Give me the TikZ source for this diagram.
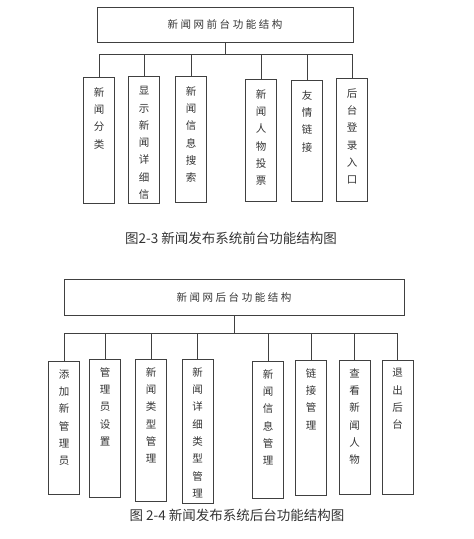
\documentclass[tikz,border=0pt]{standalone}
\usepackage{fontspec}
\usepackage{tikz}
\newfontfamily\cjk{Noto Sans CJK SC}
\newfontfamily\cjkwide[LetterSpace=24]{Noto Sans CJK SC}
\definecolor{linegray}{HTML}{404040}
\definecolor{textgray}{HTML}{333333}
\def\leafskip{10pt}
% name, x, top y, height, text
\newcommand{\leafbox}[5]{
	\node[leaf] (#1) at (#2,#3) {\parbox[t][#4pt][t]{31pt}{\vspace*{\leafskip}\centering #5}};
}

\begin{document}
\begin{tikzpicture}[x=1pt, y=-1pt,
		root/.style={draw=linegray, line width=0.9pt, inner sep=0pt, text=textgray,
			font=\cjkwide\fontsize{10.5}{12}\selectfont},
		leaf/.style={draw=linegray, line width=0.9pt, inner sep=0pt, anchor=north, text=textgray,
			font=\cjk\fontsize{10.5}{17.3}\selectfont},
		link/.style={draw=linegray, line width=0.9pt},
		caption/.style={text=textgray, font=\cjk\fontsize{13.5}{15}\selectfont}]
		\useasboundingbox (0,0) rectangle (474,539);
		% front-end tree
		\node[root, minimum width=256pt, minimum height=35pt] (froot) at (225,24.5) {新闻网前台功能结构};
		\leafbox{f1}{99}{77}{126}{新\\闻\\分\\类}
		\leafbox{f2}{144}{76}{127}{显\\示\\新\\闻\\详\\细\\信}
		\leafbox{f3}{191}{76}{126}{新\\闻\\信\\息\\搜\\索}
		\leafbox{f4}{261}{79}{122}{新\\闻\\人\\物\\投\\票}
		\leafbox{f5}{307}{80}{121}{友\\情\\链\\接}
		\leafbox{f6}{352}{78}{123}{后\\台\\登\\录\\入\\口}
		\coordinate (fbar) at (225,54);
		\draw[link] (froot.south) -- (fbar);
		\draw[link] (f1.north |- fbar) -- (f6.north |- fbar);
		\foreach \n in {f1,f2,f3,f4,f5,f6}
			\draw[link] (\n.north) -- (\n.north |- fbar);
		\node[caption] (fcap) at (231,238) {图2-3 新闻发布系统前台功能结构图};
		% back-end tree
		\def\leafskip{8pt}
		\node[root, minimum width=340pt, minimum height=36pt] (broot) at (234,297) {新闻网后台功能结构};
		\leafbox{b1}{64}{361}{133}{添\\加\\新\\管\\理\\员}
		\leafbox{b2}{105}{359}{138}{管\\理\\员\\设\\置}
		\leafbox{b3}{151}{359}{142}{新\\闻\\类\\型\\管\\理}
		\leafbox{b4}{197.5}{359}{144}{新\\闻\\详\\细\\类\\型\\管\\理}
		\leafbox{b5}{268}{361}{137}{新\\闻\\信\\息\\管\\理}
		\leafbox{b6}{311}{360}{135}{链\\接\\管\\理}
		\leafbox{b7}{354.5}{360}{134}{查\\看\\新\\闻\\人\\物}
		\leafbox{b8}{397.5}{360}{134}{退\\出\\后\\台}
		\coordinate (bbar) at (234,333);
		\draw[link] (broot.south) -- (bbar);
		\draw[link] (b1.north |- bbar) -- (b8.north |- bbar);
		\foreach \n in {b1,b2,b3,b4,b5,b6,b7,b8}
			\draw[link] (\n.north) -- (\n.north |- bbar);
		\node[caption] (bcap) at (237,515) {图 2-4 新闻发布系统后台功能结构图};
	\end{tikzpicture}
\end{document}
